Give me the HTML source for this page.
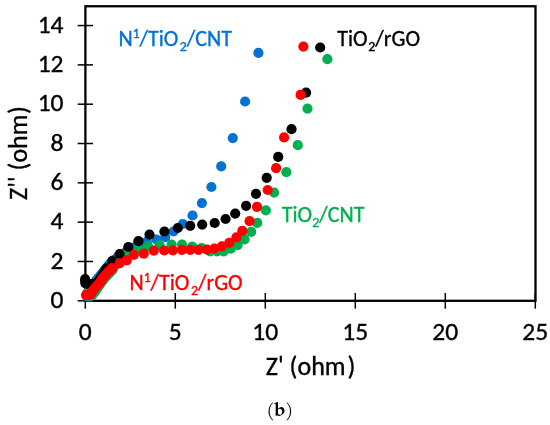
<!DOCTYPE html>
<html><head><meta charset="utf-8"><style>
html,body{margin:0;padding:0;background:#fff;}
body{width:550px;height:425px;overflow:hidden;position:relative;}
svg{position:absolute;left:0;top:0;}
.t{font-family:"Carlito","Liberation Sans",sans-serif;font-size-adjust:0.4775390625;stroke:currentColor;stroke-width:0.35px;}
.cap{font-family:"TeX Gyre Pagella","Liberation Serif",serif;}
</style></head><body>
<svg width="550" height="425" viewBox="0 0 550 425">
<g fill="none" stroke="#000" stroke-width="1.5"><line x1="77.7" y1="300.80" x2="93" y2="300.80"/><line x1="77.7" y1="261.48" x2="93" y2="261.48"/><line x1="77.7" y1="222.16" x2="93" y2="222.16"/><line x1="77.7" y1="182.84" x2="93" y2="182.84"/><line x1="77.7" y1="143.52" x2="93" y2="143.52"/><line x1="77.7" y1="104.20" x2="93" y2="104.20"/><line x1="77.7" y1="64.88" x2="93" y2="64.88"/><line x1="77.7" y1="25.56" x2="93" y2="25.56"/><line x1="85.30" y1="293" x2="85.30" y2="308.6"/><line x1="175.30" y1="293" x2="175.30" y2="308.6"/><line x1="265.30" y1="293" x2="265.30" y2="308.6"/><line x1="355.30" y1="293" x2="355.30" y2="308.6"/><line x1="445.30" y1="293" x2="445.30" y2="308.6"/><line x1="535.30" y1="293" x2="535.30" y2="308.6"/></g>
<rect x="85.4" y="6.25" width="450.1" height="294.55" fill="none" stroke="#000" stroke-width="2.3"/>
<g>
<circle cx="90.0" cy="296.6" r="5.1" fill="#0472D0"/>
<circle cx="87.0" cy="296.4" r="5.1" fill="#0472D0"/>
<circle cx="89.0" cy="292.5" r="5.1" fill="#0472D0"/>
<circle cx="90.0" cy="290.2" r="5.1" fill="#0472D0"/>
<circle cx="91.0" cy="288.0" r="5.1" fill="#0472D0"/>
<circle cx="92.6" cy="285.5" r="5.1" fill="#0472D0"/>
<circle cx="94.2" cy="283.0" r="5.1" fill="#0472D0"/>
<circle cx="96.0" cy="280.8" r="5.1" fill="#0472D0"/>
<circle cx="97.8" cy="278.6" r="5.1" fill="#0472D0"/>
<circle cx="99.7" cy="276.3" r="5.1" fill="#0472D0"/>
<circle cx="101.5" cy="274.0" r="5.1" fill="#0472D0"/>
<circle cx="103.8" cy="271.2" r="5.1" fill="#0472D0"/>
<circle cx="106.0" cy="268.5" r="5.1" fill="#0472D0"/>
<circle cx="108.0" cy="266.2" r="5.1" fill="#0472D0"/>
<circle cx="110.0" cy="263.8" r="5.1" fill="#0472D0"/>
<circle cx="112.0" cy="261.5" r="5.1" fill="#0472D0"/>
<circle cx="114.3" cy="259.8" r="5.1" fill="#0472D0"/>
<circle cx="116.7" cy="258.2" r="5.1" fill="#0472D0"/>
<circle cx="119.0" cy="256.5" r="5.1" fill="#0472D0"/>
<circle cx="121.3" cy="255.0" r="5.1" fill="#0472D0"/>
<circle cx="123.7" cy="253.5" r="5.1" fill="#0472D0"/>
<circle cx="126.0" cy="252.0" r="5.1" fill="#0472D0"/>
<circle cx="128.3" cy="250.7" r="5.1" fill="#0472D0"/>
<circle cx="130.7" cy="249.3" r="5.1" fill="#0472D0"/>
<circle cx="133.0" cy="248.0" r="5.1" fill="#0472D0"/>
<circle cx="135.3" cy="246.8" r="5.1" fill="#0472D0"/>
<circle cx="137.7" cy="245.7" r="5.1" fill="#0472D0"/>
<circle cx="140.0" cy="244.5" r="5.1" fill="#0472D0"/>
<circle cx="143.2" cy="243.2" r="5.1" fill="#0472D0"/>
<circle cx="146.5" cy="242.0" r="5.1" fill="#0472D0"/>
<circle cx="146.5" cy="242.0" r="5.1" fill="#0472D0"/>
<circle cx="156.5" cy="239.5" r="5.1" fill="#0472D0"/>
<circle cx="165.2" cy="237.2" r="5.1" fill="#0472D0"/>
<circle cx="173.5" cy="231.5" r="5.1" fill="#0472D0"/>
<circle cx="182.8" cy="224.0" r="5.1" fill="#0472D0"/>
<circle cx="192.5" cy="215.5" r="5.1" fill="#0472D0"/>
<circle cx="201.9" cy="203.1" r="5.1" fill="#0472D0"/>
<circle cx="211.4" cy="187.0" r="5.1" fill="#0472D0"/>
<circle cx="221.2" cy="166.3" r="5.1" fill="#0472D0"/>
<circle cx="232.8" cy="138.1" r="5.1" fill="#0472D0"/>
<circle cx="245.1" cy="101.5" r="5.1" fill="#0472D0"/>
<circle cx="258.4" cy="52.9" r="5.1" fill="#0472D0"/>
<circle cx="87.5" cy="292.5" r="5.1" fill="#00B050"/>
<circle cx="89.0" cy="295.8" r="5.1" fill="#00B050"/>
<circle cx="92.0" cy="295.5" r="5.1" fill="#00B050"/>
<circle cx="94.5" cy="292.5" r="5.1" fill="#00B050"/>
<circle cx="95.8" cy="290.5" r="5.1" fill="#00B050"/>
<circle cx="97.2" cy="288.5" r="5.1" fill="#00B050"/>
<circle cx="98.7" cy="286.2" r="5.1" fill="#00B050"/>
<circle cx="100.2" cy="284.0" r="5.1" fill="#00B050"/>
<circle cx="102.1" cy="281.5" r="5.1" fill="#00B050"/>
<circle cx="104.0" cy="279.0" r="5.1" fill="#00B050"/>
<circle cx="106.3" cy="276.4" r="5.1" fill="#00B050"/>
<circle cx="108.7" cy="273.8" r="5.1" fill="#00B050"/>
<circle cx="110.7" cy="271.7" r="5.1" fill="#00B050"/>
<circle cx="112.6" cy="269.6" r="5.1" fill="#00B050"/>
<circle cx="114.3" cy="266.3" r="5.1" fill="#00B050"/>
<circle cx="116.0" cy="263.0" r="5.1" fill="#00B050"/>
<circle cx="117.7" cy="261.1" r="5.1" fill="#00B050"/>
<circle cx="119.5" cy="259.3" r="5.1" fill="#00B050"/>
<circle cx="121.2" cy="257.4" r="5.1" fill="#00B050"/>
<circle cx="121.2" cy="257.4" r="5.1" fill="#00B050"/>
<circle cx="127.3" cy="253.8" r="5.1" fill="#00B050"/>
<circle cx="138.1" cy="249.2" r="5.1" fill="#00B050"/>
<circle cx="148.0" cy="246.4" r="5.1" fill="#00B050"/>
<circle cx="159.6" cy="245.3" r="5.1" fill="#00B050"/>
<circle cx="171.6" cy="244.5" r="5.1" fill="#00B050"/>
<circle cx="182.0" cy="244.6" r="5.1" fill="#00B050"/>
<circle cx="192.3" cy="246.7" r="5.1" fill="#00B050"/>
<circle cx="201.7" cy="248.0" r="5.1" fill="#00B050"/>
<circle cx="210.2" cy="251.3" r="5.1" fill="#00B050"/>
<circle cx="217.0" cy="251.4" r="5.1" fill="#00B050"/>
<circle cx="223.7" cy="251.3" r="5.1" fill="#00B050"/>
<circle cx="230.9" cy="248.6" r="5.1" fill="#00B050"/>
<circle cx="237.6" cy="245.1" r="5.1" fill="#00B050"/>
<circle cx="244.6" cy="239.3" r="5.1" fill="#00B050"/>
<circle cx="251.2" cy="231.8" r="5.1" fill="#00B050"/>
<circle cx="257.2" cy="222.9" r="5.1" fill="#00B050"/>
<circle cx="265.9" cy="210.4" r="5.1" fill="#00B050"/>
<circle cx="274.1" cy="192.6" r="5.1" fill="#00B050"/>
<circle cx="286.4" cy="172.2" r="5.1" fill="#00B050"/>
<circle cx="297.8" cy="145.2" r="5.1" fill="#00B050"/>
<circle cx="307.5" cy="108.6" r="5.1" fill="#00B050"/>
<circle cx="327.4" cy="59.2" r="5.1" fill="#00B050"/>
<circle cx="85.3" cy="281.5" r="5.1" fill="#000000"/>
<circle cx="85.1" cy="279.2" r="5.1" fill="#000000"/>
<circle cx="85.5" cy="283.5" r="5.1" fill="#000000"/>
<circle cx="88.0" cy="283.8" r="5.1" fill="#000000"/>
<circle cx="90.5" cy="284.0" r="5.1" fill="#000000"/>
<circle cx="93.0" cy="284.1" r="5.1" fill="#000000"/>
<circle cx="95.4" cy="284.3" r="5.1" fill="#000000"/>
<circle cx="97.2" cy="282.3" r="5.1" fill="#000000"/>
<circle cx="98.9" cy="280.3" r="5.1" fill="#000000"/>
<circle cx="100.7" cy="277.8" r="5.1" fill="#000000"/>
<circle cx="102.4" cy="275.3" r="5.1" fill="#000000"/>
<circle cx="103.8" cy="273.0" r="5.1" fill="#000000"/>
<circle cx="105.2" cy="270.6" r="5.1" fill="#000000"/>
<circle cx="106.6" cy="268.3" r="5.1" fill="#000000"/>
<circle cx="112.2" cy="261.0" r="5.1" fill="#000000"/>
<circle cx="119.6" cy="254.0" r="5.1" fill="#000000"/>
<circle cx="128.3" cy="247.0" r="5.1" fill="#000000"/>
<circle cx="138.4" cy="241.1" r="5.1" fill="#000000"/>
<circle cx="149.5" cy="234.6" r="5.1" fill="#000000"/>
<circle cx="164.4" cy="231.5" r="5.1" fill="#000000"/>
<circle cx="177.8" cy="228.0" r="5.1" fill="#000000"/>
<circle cx="190.2" cy="225.8" r="5.1" fill="#000000"/>
<circle cx="202.2" cy="224.6" r="5.1" fill="#000000"/>
<circle cx="214.7" cy="223.0" r="5.1" fill="#000000"/>
<circle cx="225.6" cy="219.0" r="5.1" fill="#000000"/>
<circle cx="235.2" cy="213.6" r="5.1" fill="#000000"/>
<circle cx="246.1" cy="205.8" r="5.1" fill="#000000"/>
<circle cx="256.0" cy="193.8" r="5.1" fill="#000000"/>
<circle cx="266.7" cy="177.8" r="5.1" fill="#000000"/>
<circle cx="278.2" cy="156.9" r="5.1" fill="#000000"/>
<circle cx="291.5" cy="129.2" r="5.1" fill="#000000"/>
<circle cx="306.1" cy="92.7" r="5.1" fill="#000000"/>
<circle cx="320.2" cy="47.5" r="5.1" fill="#000000"/>
<circle cx="86.0" cy="295.0" r="5.1" fill="#FF0000"/>
<circle cx="88.5" cy="295.0" r="5.1" fill="#FF0000"/>
<circle cx="90.5" cy="294.5" r="5.1" fill="#FF0000"/>
<circle cx="91.5" cy="292.8" r="5.1" fill="#FF0000"/>
<circle cx="92.5" cy="291.0" r="5.1" fill="#FF0000"/>
<circle cx="94.2" cy="289.0" r="5.1" fill="#FF0000"/>
<circle cx="95.8" cy="287.0" r="5.1" fill="#FF0000"/>
<circle cx="97.7" cy="285.0" r="5.1" fill="#FF0000"/>
<circle cx="99.5" cy="283.0" r="5.1" fill="#FF0000"/>
<circle cx="100.8" cy="281.1" r="5.1" fill="#FF0000"/>
<circle cx="102.2" cy="279.1" r="5.1" fill="#FF0000"/>
<circle cx="103.5" cy="277.2" r="5.1" fill="#FF0000"/>
<circle cx="105.2" cy="275.3" r="5.1" fill="#FF0000"/>
<circle cx="106.8" cy="273.5" r="5.1" fill="#FF0000"/>
<circle cx="108.5" cy="271.6" r="5.1" fill="#FF0000"/>
<circle cx="110.2" cy="270.0" r="5.1" fill="#FF0000"/>
<circle cx="112.0" cy="268.3" r="5.1" fill="#FF0000"/>
<circle cx="112.0" cy="268.3" r="5.1" fill="#FF0000"/>
<circle cx="119.5" cy="263.4" r="5.1" fill="#FF0000"/>
<circle cx="126.7" cy="260.4" r="5.1" fill="#FF0000"/>
<circle cx="133.8" cy="254.9" r="5.1" fill="#FF0000"/>
<circle cx="143.8" cy="253.6" r="5.1" fill="#FF0000"/>
<circle cx="153.8" cy="250.6" r="5.1" fill="#FF0000"/>
<circle cx="164.2" cy="250.5" r="5.1" fill="#FF0000"/>
<circle cx="172.9" cy="250.3" r="5.1" fill="#FF0000"/>
<circle cx="182.0" cy="249.8" r="5.1" fill="#FF0000"/>
<circle cx="190.2" cy="249.8" r="5.1" fill="#FF0000"/>
<circle cx="198.4" cy="249.8" r="5.1" fill="#FF0000"/>
<circle cx="207.0" cy="249.6" r="5.1" fill="#FF0000"/>
<circle cx="214.4" cy="248.5" r="5.1" fill="#FF0000"/>
<circle cx="221.9" cy="246.3" r="5.1" fill="#FF0000"/>
<circle cx="229.2" cy="242.9" r="5.1" fill="#FF0000"/>
<circle cx="236.4" cy="237.4" r="5.1" fill="#FF0000"/>
<circle cx="242.3" cy="230.9" r="5.1" fill="#FF0000"/>
<circle cx="249.6" cy="221.2" r="5.1" fill="#FF0000"/>
<circle cx="257.0" cy="206.8" r="5.1" fill="#FF0000"/>
<circle cx="267.7" cy="190.0" r="5.1" fill="#FF0000"/>
<circle cx="276.1" cy="168.2" r="5.1" fill="#FF0000"/>
<circle cx="284.1" cy="137.4" r="5.1" fill="#FF0000"/>
<circle cx="300.6" cy="94.9" r="5.1" fill="#FF0000"/>
<circle cx="303.4" cy="46.6" r="5.1" fill="#FF0000"/>
</g>
<g class="t" font-size="25.5" fill="#000" style="color:#000"><text x="63.5" y="308.00" text-anchor="end" textLength="12.9375" lengthAdjust="spacingAndGlyphs">0</text><text x="63.5" y="268.68" text-anchor="end" textLength="12.9375" lengthAdjust="spacingAndGlyphs">2</text><text x="63.5" y="229.36" text-anchor="end" textLength="12.9375" lengthAdjust="spacingAndGlyphs">4</text><text x="63.5" y="190.04" text-anchor="end" textLength="12.9375" lengthAdjust="spacingAndGlyphs">6</text><text x="63.5" y="150.72" text-anchor="end" textLength="12.9375" lengthAdjust="spacingAndGlyphs">8</text><text x="63.5" y="111.40" text-anchor="end" textLength="25.859375" lengthAdjust="spacingAndGlyphs">10</text><text x="63.5" y="72.08" text-anchor="end" textLength="25.859375" lengthAdjust="spacingAndGlyphs">12</text><text x="63.5" y="32.76" text-anchor="end" textLength="25.859375" lengthAdjust="spacingAndGlyphs">14</text><text x="85.30" y="339.5" text-anchor="middle" textLength="12.9375" lengthAdjust="spacingAndGlyphs">0</text><text x="175.30" y="339.5" text-anchor="middle" textLength="12.9375" lengthAdjust="spacingAndGlyphs">5</text><text x="265.30" y="339.5" text-anchor="middle" textLength="25.859375" lengthAdjust="spacingAndGlyphs">10</text><text x="355.30" y="339.5" text-anchor="middle" textLength="25.859375" lengthAdjust="spacingAndGlyphs">15</text><text x="445.30" y="339.5" text-anchor="middle" textLength="25.859375" lengthAdjust="spacingAndGlyphs">20</text><text x="535.30" y="339.5" text-anchor="middle" textLength="25.859375" lengthAdjust="spacingAndGlyphs">25</text></g>
<text class="t" font-size="26" x="310.6" y="374.8" text-anchor="middle" textLength="89.51875" lengthAdjust="spacingAndGlyphs">Z' (ohm<tspan dx="1.8">)</tspan></text>
<text class="t" font-size="26" transform="translate(26.6,153.1) rotate(-90)" text-anchor="middle" textLength="93.853125" lengthAdjust="spacingAndGlyphs">Z'' (ohm<tspan dx="0.4">)</tspan></text>
<text class="t" font-size="22" textLength="113.45625" lengthAdjust="spacingAndGlyphs" x="118.5" y="45.5" fill="#0472D0" style="color:#0472D0">N<tspan font-size="13.5" dy="-7.8">1</tspan><tspan dy="7.8">/TiO</tspan><tspan font-size="14" dx="1.3" dy="5">2</tspan><tspan dy="-5">/CNT</tspan></text>
<text class="t" font-size="22" textLength="82.678125" lengthAdjust="spacingAndGlyphs" x="337.3" y="46.3" fill="#000">TiO<tspan font-size="14" dx="0.6" dy="5">2</tspan><tspan dy="-5">/rGO</tspan></text>
<text class="t" font-size="22" textLength="82.609375" lengthAdjust="spacingAndGlyphs" x="281.8" y="221.7" fill="#00B050" style="color:#00B050">TiO<tspan font-size="14" dx="0" dy="5">2</tspan><tspan dy="-5">/CNT</tspan></text>
<text class="t" font-size="22" textLength="113.125" lengthAdjust="spacingAndGlyphs" x="129.5" y="289.6" fill="#FF0000" style="color:#FF0000">N<tspan font-size="13.5" dy="-7.8">1</tspan><tspan dy="7.8">/TiO</tspan><tspan font-size="14" dx="1.5" dy="5">2</tspan><tspan dy="-5">/rGO</tspan></text>
<g class="cap"><text font-size="18.5" x="270.4" y="415.9" text-anchor="middle">(</text><text font-size="19" font-weight="bold" x="279.7" y="415.5" text-anchor="middle">b</text><text font-size="18.5" x="289.3" y="415.9" text-anchor="middle">)</text></g>
</svg>
</body></html>
